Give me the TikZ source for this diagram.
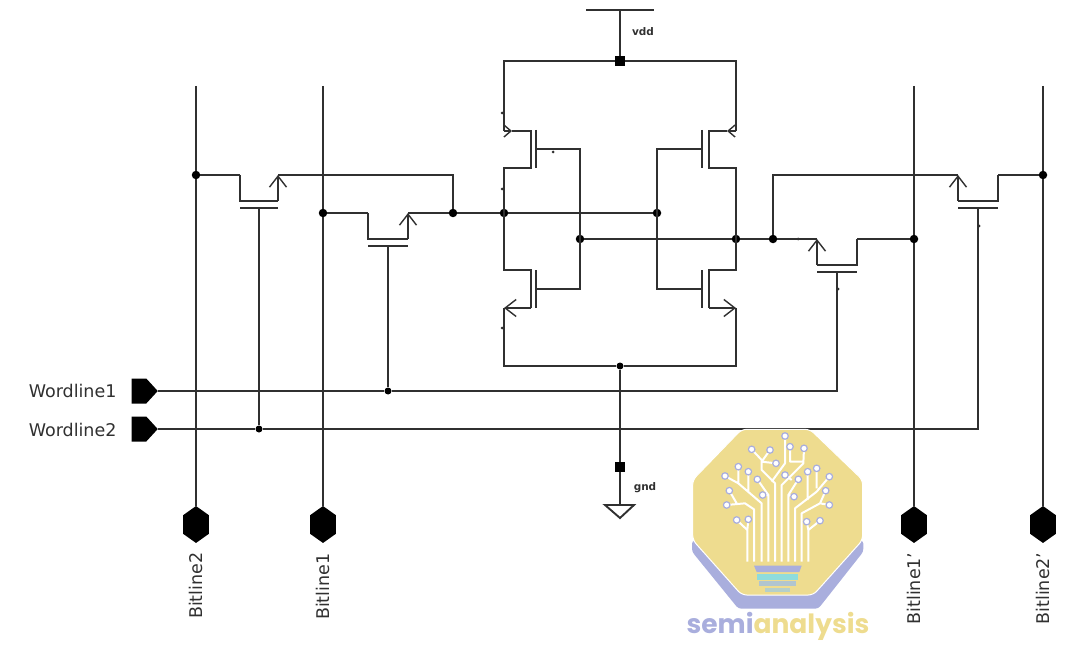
\documentclass[tikz,border=0pt]{standalone}
\usepackage{fontspec}
\setmainfont{DejaVu Sans}
\newfontfamily\logofont{Poppins}
\usetikzlibrary{calc,shapes.geometric,shapes.symbols,arrows.meta}
\definecolor{wirecol}{HTML}{303030}
\definecolor{logoyellow}{HTML}{EEDC8F}
\definecolor{logoblue}{HTML}{A9AEDD}
\definecolor{logoteal}{HTML}{8FDCDC}
\definecolor{logopale}{HTML}{B5CFC9}
\tikzset{
    wire/.style={draw=wirecol,line width=1.9pt,line join=miter},
    srcarrow/.style={wire,-{Straight Barb[length=11pt,width=17pt,line width=1.4pt]}},
    tiparrow/.style={wire,-{Straight Barb[length=7pt,width=12pt,line width=1.4pt]}},
    junction/.style={circle,fill=black,inner sep=0pt,minimum size=8.5pt},
    smalljunction/.style={circle,fill=black,inner sep=0pt,minimum size=7pt},
    railsq/.style={rectangle,fill=black,inner sep=0pt,minimum size=10.5pt},
    bitpin/.style={regular polygon,regular polygon sides=6,shape border rotate=30,fill=black,inner sep=0pt,minimum size=30pt,yscale=1.23,transform shape},
    wordpin/.style={signal,signal to=east,signal pointer angle=95,fill=black,inner sep=0pt,minimum width=26pt,minimum height=25pt},
    speck/.style={circle,fill=wirecol,inner sep=0pt,minimum size=3pt},
    wordlbl/.style={anchor=east,font=\fontsize{17.5}{19}\selectfont,text=wirecol},
    bitlbl/.style={anchor=east,rotate=90,font=\fontsize{17.5}{19}\selectfont,text=wirecol},
    supplbl/.style={font=\bfseries\fontsize{10.5}{12}\selectfont,text=wirecol},
    trace/.style={draw=white,line width=2pt,line join=round},
    tracedot/.style={circle,draw=logoblue,fill=white,line width=1.2pt,inner sep=0pt,minimum size=6.5pt},
}
\begin{document}
\begin{tikzpicture}[x=1pt,y=-1pt]
    \useasboundingbox (0,0) rectangle (1080,650);

    % supply
    \coordinate (vddl) at (586,10);
    \coordinate (vddr) at (654,10);
    \coordinate (vddm) at (620,10);
    \node[railsq] (vddsq) at (620,61) {};
    \node[smalljunction] (gndj) at (620,366) {};
    \node[railsq] (gndsq) at (620,467) {};
    \coordinate (gndm) at (620,505);
    \coordinate (gndl) at (605,505);
    \coordinate (gndr) at (634,505);
    \coordinate (gndt) at (620,518);
    \draw[wire] (vddl) -- (vddr);
    \draw[wire] (vddm) -- (vddsq);
    \draw[wire] (gndj) -- (gndsq) -- (gndm);
    \draw[wire] (gndl) -- (gndr) -- (gndt) -- cycle;
    \node[supplbl] (vddlbl) at (643,32) {vdd};
    \node[supplbl] (gndlbl) at (645,488) {gnd};

    % junctions
    \node[junction] (nodeA) at (504,213) {};
    \node[junction] (nodeAr) at (657,213) {};
    \node[junction] (nodeAl) at (453,213) {};
    \node[junction] (nodeB) at (580,239) {};
    \node[junction] (nodeBr) at (736,239) {};
    \node[junction] (nodeBo) at (773,239) {};

    % inverters
    \foreach \name/\xo/\xc/\xp/\xg/\xt in {L/504/531/536/580/512, R/736/709/702/657/727}{
        \coordinate (\name tsrc) at (\xc,131);
        \coordinate (\name tdrn) at (\xc,168);
        \coordinate (\name bdrn) at (\xc,270);
        \coordinate (\name bsrc) at (\xc,308);
        \coordinate (\name orail) at (\xo,131);
        \coordinate (\name oup) at (\xo,168);
        \coordinate (\name odn) at (\xo,270);
        \coordinate (\name osrc) at (\xo,308);
        \coordinate (\name tip) at (\xt,131);
        \coordinate (\name tgate) at (\xp,149);
        \coordinate (\name bgate) at (\xp,289);
        \coordinate (\name gtop) at (\xg,149);
        \coordinate (\name gbot) at (\xg,289);
        \draw[wire] (\xp,130) -- (\xp,168);
        \draw[wire] (\xp,270) -- (\xp,308);
        \draw[wire] (\name tip) -- (\name tsrc) -- (\name tdrn) -- (\name oup) -- (\name odn) -- (\name bdrn) -- (\name bsrc);
        \draw[wire] (\name tgate) -- (\name gtop) -- (\name gbot) -- (\name bgate);
        \draw[tiparrow] (\name orail) -- (\name tip);
        \draw[srcarrow] (\name bsrc) -- (\name osrc);
    }
    \draw[wire] (Lorail) |- (vddsq) -| (Rorail);
    \draw[wire] (Losrc) |- (gndj) -| (Rosrc);

    % access transistors
    \foreach \name/\xa/\xb/\yw in {ax2/240/278/175, ax1/368/408/213, ax3/817/857/239, ax4/958/998/175}{
        \coordinate (\name a) at (\xa,\yw);
        \coordinate (\name b) at (\xb,\yw);
        \coordinate (\name c) at (\xa,\yw+26);
        \coordinate (\name d) at (\xb,\yw+26);
        \coordinate (\name g) at ({(\xa+\xb)/2},\yw+33);
        \draw[wire] (\xa,\yw+33) -- (\xb,\yw+33);
    }
    \draw[wire] (ax2a) -- (ax2c) -- (ax2d);
    \draw[srcarrow] (ax2d) -- (ax2b);
    \draw[wire] (ax1a) -- (ax1c) -- (ax1d);
    \draw[srcarrow] (ax1d) -- (ax1b);
    \draw[wire] (ax3b) -- (ax3d) -- (ax3c);
    \draw[srcarrow] (ax3c) -- (ax3a);
    \draw[wire] (ax4b) -- (ax4d) -- (ax4c);
    \draw[srcarrow] (ax4c) -- (ax4a);

    % bitlines
    \foreach \name/\xb/\ylab/\txt in {blA/196/549/Bitline2, blB/323/550/Bitline1, blC/914/549/Bitline1', blD/1043/549/Bitline2'}{
        \coordinate (\name top) at (\xb,86);
        \node[bitpin] (\name pin) at (\xb,524.5) {};
        \draw[wire] (\name top) -- (\name pin);
        \node[bitlbl] (\name lbl) at (\xb,\ylab) {\txt};
    }
    \node[junction] (blAj) at (196,175) {};
    \node[junction] (blBj) at (323,213) {};
    \node[junction] (blCj) at (914,239) {};
    \node[junction] (blDj) at (1043,175) {};

    % storage nodes to bitlines
    \draw[wire] (blAj) -- (ax2a);
    \draw[wire] (ax2b) -| (nodeAl);
    \draw[wire] (blBj) -- (ax1a);
    \draw[wire] (ax1b) -- (nodeAl) -- (nodeA) -- (nodeAr);
    \draw[wire] (nodeB) -- (nodeBr) -- (nodeBo) -- (ax3a);
    \draw[wire] (ax3b) -- (blCj);
    \draw[wire] (nodeBo) |- (ax4a);
    \draw[wire] (ax4b) -- (blDj);

    % wordlines
    \node[wordpin] (wl1pin) at (139,391) {};
    \node[wordpin] (wl2pin) at (139,429) {};
    \node[smalljunction] (wl1j) at (388,391) {};
    \node[smalljunction] (wl2j) at (259,429) {};
    \draw[wire] (wl1pin) -- (wl1j) -| (ax3g);
    \draw[wire] (wl2pin) -- (wl2j) -| (ax4g);
    \draw[wire] (ax1g) -- (wl1j);
    \draw[wire] (ax2g) -- (wl2j);
    \node[wordlbl] (wl1lbl) at (120,391) {Wordline1};
    \node[wordlbl] (wl2lbl) at (120,430) {Wordline2};

    % specks
    \foreach \x/\y in {502/113,502/189,502/328,553/152,798/239,838/289,979/226}
        \node[speck] at (\x,\y) {};

    % logo
    \begin{scope}[shift={(670,420)},scale=1/3]
        \fill[logoblue,rounded corners=3pt] (66,362) -- (66,395) -- (205,566) -- (445,566) -- (580,395) -- (580,362) -- cycle;
        \fill[logoyellow,draw=white,line width=1pt,rounded corners=5pt] (215,28) -- (420,28) -- (578,180) -- (578,360) -- (430,525) -- (215,525) -- (68,360) -- (68,180) -- cycle;
        \draw[trace] (232,425) -- (232,330) -- (200,300) (232,330) -- (235,298)
            (252,425) -- (252,268) -- (225,250) -- (170,255) (200,250) -- (178,212)
            (275,425) -- (275,250) -- (205,190) -- (165,168) (205,190) -- (205,140) (235,215) -- (235,155)
            (295,425) -- (295,225) -- (262,178) (295,225) -- (278,225)
            (315,425) -- (315,190) -- (275,150) -- (275,120) -- (245,88) (275,125) -- (300,90) (275,125) -- (318,130)
            (335,425) -- (335,195) -- (400,130) -- (402,85) (345,48) -- (345,130) -- (305,185)
            (360,80) -- (360,125) -- (400,125) (345,165) -- (365,180)
            (355,425) -- (355,225) -- (385,178) (355,225) -- (372,230)
            (375,425) -- (375,265) -- (440,215) -- (478,170) (413,155) -- (413,240) (440,145) -- (440,205)
            (395,425) -- (395,280) -- (450,250) -- (478,255) (450,250) -- (467,212)
            (415,425) -- (415,330) -- (410,305) (415,330) -- (450,302);
        \foreach \x/\y in {200/300,235/298,170/255,178/212,165/168,205/140,235/155,262/178,278/225,245/88,300/90,318/130,402/85,345/48,360/80,345/165,385/178,372/230,478/170,413/155,440/145,478/255,467/212,410/305,450/302}
            \node[tracedot] at (\x,\y) {};
        \fill[logoblue] (252,437) -- (395,437) -- (388,456) -- (260,456) -- cycle;
        \fill[logoteal] (260,462) rectangle (385,479);
        \fill[logopale!70!logoblue] (268,484) rectangle (378,499);
        \fill[logopale] (285,504) rectangle (360,516);
    \end{scope}
    \node[font=\logofont\bfseries\fontsize{26.5}{30}\selectfont,text=logoyellow] (logotxt) at (778,626) {\textcolor{logoblue}{semi}analysis};
\end{tikzpicture}
\end{document}
